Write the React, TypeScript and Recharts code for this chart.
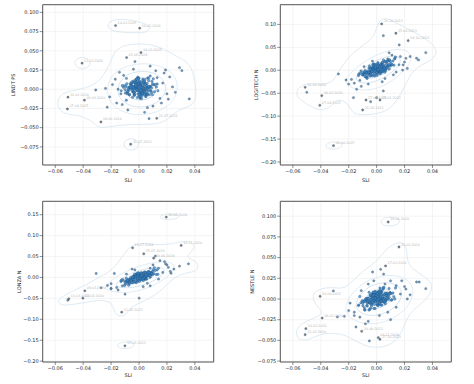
import React from 'react';
import { ScatterChart, Scatter, XAxis, YAxis, CartesianGrid, ReferenceArea } from 'recharts';

type Pt = [number, number];
type LPt = [number, number, string];

const FONT = '"DejaVu Sans", sans-serif';

const X_TICKS = [-0.06, -0.04, -0.02, 0, 0.02, 0.04];
const X_DOMAIN: [number, number] = [-0.069, 0.0535];

const LINDT_TICKS = [-0.075, -0.05, -0.025, 0, 0.025, 0.05, 0.075, 0.1];
const LOGITECH_TICKS = [-0.2, -0.15, -0.1, -0.05, 0, 0.05, 0.1];
const LONZA_TICKS = [-0.2, -0.15, -0.1, -0.05, 0, 0.05, 0.1, 0.15];
const NESTLE_TICKS = [-0.075, -0.05, -0.025, 0, 0.025, 0.05, 0.075, 0.1];

// SLI daily returns (core cloud, two batches)
const SLI_CORE = [
  0.0012, -0.0034, 0.0056, 0.0003, -0.0078, 0.0029, -0.0011, 0.0084, -0.0046, 0.0037,
  -0.0005, 0.0062, -0.0093, 0.0018, -0.0027, 0.0044, -0.0061, 0.0009, 0.0105, -0.003,
  0.0022, -0.0054, 0.0071, -0.0008, 0.0033, -0.0112, 0.005, -0.0019, 0, 0.009,
  -0.004, 0.0015, -0.007, 0.0048, -0.0023, 0.0069, -0.0086, 0.0026, -0.0002, 0.0124,
  -0.0058, 0.0039, -0.0014, 0.0006, -0.0038, 0.0077, -0.0066, 0.001, 0.0041, -0.01,
  0.002, -0.002, 0.0053, -0.0049, 0.0089, -0.0009, 0.003, -0.0074, 0.0065, -0.0016,
  0.0004, -0.0128, 0.0046, -0.0031, 0.0028, 0.011, -0.0051, 0.0013, -0.0081, 0.0059,
  -0.0025, 0.0036, -0.0001, 0.0073, -0.0043, 0.0008, -0.0068, 0.0097, -0.0012, 0.0024,
  -0.0036, 0.006, -0.0098, 0.0017, 0.0049, -0.0006, 0.0135, -0.005, 0.0021, -0.0029,
];
const SLI_CORE2 = [
  -0.0015, 0.004, -0.0063, 0.0024, 0.0007, -0.0022, 0.0079, -0.0041, 0.0016, -0.0004,
  0.0052, -0.0088, 0.0031, -0.0013, 0.0096, -0.0055, 0.0002, 0.0027, -0.0037, 0.0064,
  -0.0006, 0.0019, -0.0072, 0.0045, -0.0028, 0.0005, 0.0117, -0.0044, 0.0034, -0.0091,
  0.0011, -0.0017, 0.0058, -0.0033, 0.008, -0.0003, 0.0023, -0.006, 0.0042, -0.0024,
  0.0001, 0.013, -0.0052, 0.0014, -0.0007, 0.0067, -0.0039, 0.0029, -0.0104, 0.0038,
  -0.001, 0.0074, -0.0047, 0.0009, -0.0021, 0.0049, -0.0076, 0.0018, 0.0102, -0.0035,
  0.0025, -0.0008, 0.0055, -0.0059, 0.0003, -0.0019, 0.0086, -0.004, 0.0032, -0.012,
  0.0013, -0.0026, 0.0061, -0.0002, 0.0043, -0.0069, 0.002, -0.0011, 0.0093, -0.0032,
  0.0006, -0.0048, 0.0036, -0.0083, 0.001, 0.005, -0.0023, 0.007, -0.0009, 0.0026,
];

const LINDT_CORE = [
  0.0055, -0.0073, 0.0047, 0.0106, -0.0025, -0.0039, 0.0074, 0.0039, -0.0105, 0.0054,
  -0.0018, 0.0147, 0.0034, -0.0074, 0.0011, -0.0021, 0.0068, -0.0117, 0.0059, 0.0029,
  -0.0045, 0.0077, 0.0024, 0.0149, -0.0019, 0.0025, -0.0071, 0.0015, 0.007, 0.0016,
  0.0102, -0.0036, 0.0025, -0.0093, 0.0005, 0.011, -0.0049, -0.0052, 0.0135, 0.0029,
  0.0048, -0.0068, 0.0031, -0.0036, 0.0087, 0.003, 0.002, -0.0109, 0.0086, -0.0006,
  -0.0053, 0.0103, -0.0003, 0.0041, -0.0044, 0.0157, 0.0018, 0.001, -0.0026, 0.0077,
  -0.0097, -0.0021, 0.0063, -0.0035, 0.0129, -0.0034, 0.0014, 0.0072, -0.0029, -0.0066,
  0.0069, -0.002, 0.0143, 0.0037, -0.0027, 0.0093, -0.0074, 0.0066, -0.0108, 0.006,
  0.0091, 0.0019, -0.0049, 0.0083, -0.006, 0.0021, -0.002, 0.0095, 0.0006, 0.0035,
];
const LINDT_CORE2 = [
  -0.0018, 0.0083, -0.0001, -0.008, 0.0047, 0.0125, -0.0012, 0.0008, -0.0059, 0.0068,
  0.0021, 0.0071, -0.0012, 0.003, -0.0071, 0.0034, -0.0052, 0.0109, 0.0002, 0.001,
  0.0078, -0.0041, 0.0026, 0.0022, 0.0108, -0.0071, 0.006, -0.0037, 0.0085, -0.0142,
  0.0034, -0.0004, 0.0074, -0.0068, 0.0172, -0.0018, 0.0023, 0.0072, -0.0026, 0.0034,
  -0.0089, 0.0067, 0.0047, -0.0002, -0.0063, 0.0144, -0.004, 0.0019, 0.0048, -0.003,
  0.0036, -0.0071, 0.004, 0.0007, 0.0082, 0.0005, -0.0001, -0.0121, 0.0135, -0.0044,
  0.0025, 0.0064, -0.006, 0.0025, 0.0, 0.0133, -0.0024, 0.002, 0.0016, 0.0047,
  -0.0016, 0.005, -0.0064, 0.0025, 0.0124, -0.0065, 0.002, -0.0018, 0.0101, -0.0078,
  0.0049, -0.0018, 0.0105, -0.006, 0.0033, -0.0093, 0.0054, 0.003, 0.0105, -0.0048,
];

const LOGITECH_CORE = [
  0.007, -0.0034, 0.0193, -0.0028, -0.0068, -0.0027, 0.0074, 0.0099, -0.0049, 0.016,
  0.0057, -0.0013, -0.0074, -0.0021, 0.0066, 0.0053, -0.0054, 0.0165, 0.0116, 0.0047,
  -0.0045, -0.0065, 0.017, 0.0029, -0.0014, -0.0015, 0.0049, 0.0034, 0.0027, 0.0029,
  0.004, -0.0016, -0.0049, 0.0081, 0.014, 0.0029, -0.0046, 0.0025, 0.0116, 0.0112,
  -0.0041, 0.0135, -0.012, 0.0058, -0.0032, 0.0208, -0.0114, 0.0058, -0.0017, -0.0055,
  0.0028, 0.012, 0.0019, -0.0077, 0.0215, 0.001, -0.0058, -0.004, 0.0055, 0.0103,
  0.0004, -0.0086, 0.0091, -0.0116, 0.0105, 0.0124, 0.0095, 0.003, -0.0002, 0.0035,
  0.0016, 0.0084, -0.0111, 0.0191, -0.008, 0.0039, -0.0157, 0.0198, 0.0122, 0.0025,
  0.0006, -0.0003, -0.0103, 0.0109, 0.0026, 0, 0.0291, -0.0025, -0.0026, 0.0023,
];
const LOGITECH_CORE2 = [
  -0.0066, 0.017, -0.0063, 0.0102, -0.0089, 0.0011, 0.0078, 0.0051, 0.0027, 0.0052,
  0.001, -0.0031, 0.0035, 0.0007, 0.0091, 0.005, 0.0039, -0.0037, 0.002, 0.0073,
  0.0085, 0.0041, -0.0052, 0.0019, 0.0113, 0.0016, 0.0205, -0.0123, 0.012, -0.0091,
  -0.0009, 0.0092, -0.0041, -0.0011, 0.0104, 0.0094, 0.0044, -0.0014, -0.0028, 0.0018,
  -0.003, 0.0258, -0.0048, 0.0, 0.0125, 0.0036, -0.0047, 0.0111, -0.0097, -0.003,
  0.0038, 0.0067, 0.0039, 0.0038, -0.0034, 0.0222, -0.0147, 0.009, 0.0144, -0.0005,
  -0.0073, 0.0075, 0.0058, -0.0042, -0.0058, 0.0101, 0.013, 0.0006, 0.0005, -0.0066,
  0.0018, -0.0011, 0.019, -0.0046, 0.0116, -0.018, 0.007, -0.0025, 0.0228, -0.0027,
  0.0087, -0.0116, 0.0077, -0.0134, 0.0155, 0.012, -0.0107, 0.0119, 0.0069, 0.0031,
];

const LONZA_CORE = [
  0.0011, -0.0013, -0.0036, 0.0055, -0.0075, -0.0023, 0.0067, 0.0069, -0.0014, -0.0024,
  0.0115, 0.0067, -0.0085, -0.0024, 0.0028, -0.0038, -0.0062, 0.0041, 0.0087, 0.0056,
  -0.0037, -0.0044, 0.0125, -0.0021, -0.0039, -0.007, 0.0022, 0.0086, 0.0004, 0.008,
  0.0021, -0.0035, -0.0055, -0.0038, 0.0009, 0.015, -0.0102, 0.0005, 0.0052, 0.0068,
  -0.0053, 0.0001, 0.0065, -0.0001, -0.0015, 0.0118, -0.0131, 0.0027, 0.0121, -0.012,
  0.0001, 0.0044, 0.01, -0.0125, 0.0105, -0.0045, 0.0094, -0.0185, 0.0085, 0.0005,
  -0.0045, -0.0074, -0.0005, 0.0005, -0.0011, 0.0234, -0.0057, 0.0032, -0.0133, 0.0123,
  -0.0114, 0.0123, -0.0018, 0.0096, -0.0064, 0.0092, -0.0115, 0.0146, -0.009, 0.0027,
  0.0024, 0.004, -0.0164, 0.012, 0.004, 0.0037, 0.0076, -0.0035, -0.0015, 0.0039,
];
const LONZA_CORE2 = [
  0.0075, 0.0014, -0.0069, 0.0082, -0.0033, -0.0001, 0.0005, -0.001, 0.0013, 0.0058,
  0.0041, -0.0087, -0.0075, 0.0061, 0.0071, -0.0055, 0.0047, -0.0039, -0.0014, 0.0062,
  0.0097, -0.0027, -0.0062, 0.0046, 0.0028, -0.0019, 0.0167, -0.0122, 0.005, -0.0019,
  -0.0031, -0.0016, 0.0044, 0.0014, 0.0026, 0.0026, 0.0014, 0.0001, 0.001, -0.001,
  -0.0093, 0.0184, -0.0058, 0.0094, -0.0061, 0.0055, 0.0006, 0.0038, -0.0192, 0.007,
  0.0087, 0.0045, -0.0044, -0.0036, 0.0024, 0.0042, -0.0053, -0.0026, 0.0182, -0.0097,
  0.003, 0.0019, 0.0033, -0.006, 0.0023, -0.0121, 0.0111, -0.0051, 0.0087, -0.0047,
  0.0046, -0.0083, 0.0079, -0.0004, 0.0132, -0.0142, 0.0047, 0.0037, 0.0095, 0.0075,
  -0.0015, 0.0017, 0.0, -0.0067, -0.0068, 0.0069, -0.0011, 0.0119, -0.0023, -0.0028,
];

const NESTLE_CORE = [
  0.0078, -0.0059, 0.0054, -0.007, -0.0003, 0.0003, 0.0094, -0.0006, -0.0054, 0.0085,
  -0.0001, -0.0056, -0.0027, -0.0029, 0.0067, 0.001, 0.0011, 0.0014, -0.0014, 0.0021,
  -0.0018, 0.008, 0.0037, 0.0062, -0.003, -0.0045, 0.0044, -0.0115, 0.0061, 0.0019,
  -0.0017, -0.0062, 0, 0.0123, -0.0035, 0.0068, -0.0132, 0.0019, 0.0052, 0.0028,
  -0.0044, 0.0099, 0.0008, -0.0055, 0.001, 0.0073, -0.0048, 0.0086, -0.0017, -0.005,
  -0.0056, 0.0042, 0.0008, -0.0037, 0.0127, 0.0029, -0.0073, -0.0023, -0.0012, 0.0055,
  -0.0017, -0.0073, 0.0134, -0.0051, 0.007, -0.0009, -0.0043, 0.0054, -0.0033, -0.0026,
  0.0074, -0.0007, 0.0031, 0.0049, -0.0112, 0.0062, -0.0085, 0.0076, -0.0008, 0.0134,
  -0.0086, 0.0073, -0.0082, 0.0089, -0.0026, 0.0008, 0.0132, -0.0128, 0.0037, -0.002,
];
const NESTLE_CORE2 = [
  -0.0066, 0.0011, 0.0005, 0.0029, -0.0075, 0.0012, 0.0008, 0.0039, 0.0014, -0.0024,
  0.0142, -0.0107, 0.0056, -0.0015, 0.0074, -0.0133, 0.0053, -0.0011, -0.001, -0.0027,
  0.0081, 0.001, -0.0013, -0.0019, 0.0039, -0.0012, 0.0073, 0.0046, -0.003, -0.0023,
  -0.0081, 0.0009, 0.001, 0.005, 0.0044, 0.0045, -0.0045, -0.0028, -0.0012, 0.0083,
  0.0029, 0.0, -0.0025, 0.0057, -0.0023, -0.0013, 0.0055, 0.0017, -0.0022, -0.0072,
  0.001, 0.0008, 0.0039, -0.0006, 0.0017, -0.0033, 0.0005, -0.0009, 0.0064, -0.0064,
  0.0096, 0.0008, -0.0041, 0.0003, -0.0022, 0.0047, 0.0048, -0.0006, -0.0029, 0.0031,
  -0.0001, 0.0011, -0.0032, 0.0044, 0.0031, -0.0076, 0.0087, -0.0115, 0.0065, -0.0035,
  0.0066, -0.0034, 0.0057, -0.0132, 0.0029, -0.0011, 0.0041, 0.0042, -0.0036, 0.0107,
];

// sparse / outlying days (SLI, stock)
const LINDT_OTHER: Pt[] = [
  [-0.0029, 0.036], [0.029, 0.028], [0.0307, 0.0242], [0.036, -0.0126], [-0.031, -0.001],
  [-0.0228, -0.0234], [0.0072, -0.0383], [0.018, 0.021], [0.022, 0.016], [0.02, -0.006],
  [0.016, -0.018], [-0.016, -0.018], [-0.019, 0.006], [-0.014, 0.022], [0.008, 0.03],
  [-0.008, -0.027], [0.004, -0.03], [0.024, 0.003], [-0.021, -0.01],
  [0.012, 0.024], [-0.011, 0.018], [0.015, -0.012], [-0.013, -0.006], [0.017, 0.008],
  [-0.017, 0.013], [0.01, -0.022], [-0.004, 0.026], [0.021, -0.013], [-0.012, -0.02],
  [0.013, 0.015], [-0.015, 0.0], [0.006, -0.024], [-0.009, 0.014], [0.019, 0.025],
  [0.026, -0.004], [-0.024, 0.001],
];
const LOGITECH_OTHER: Pt[] = [
  [0.0048, 0.0755], [0.0162, 0.0552], [0.0352, 0.0384], [0.0286, 0.0262], [0.03, 0.0225],
  [-0.0274, -0.0081], [-0.05, -0.048], [-0.0166, -0.0597], [0.0, -0.0597], [-0.0043, -0.0685],
  [-0.0219, -0.0212], [-0.0143, -0.0414], [0.0048, -0.0451], [0.019, 0.0116], [0.0186, 0.0005],
  [0.017, 0.03], [0.02, 0.018], [-0.018, -0.02], [-0.011, -0.035], [0.009, 0.038],
  [0.012, -0.01], [-0.006, -0.03], [0.022, 0.004],
  [0.013, 0.025], [0.016, 0.012], [-0.013, -0.012], [-0.016, -0.028], [0.011, 0.033],
  [0.006, -0.018], [-0.009, 0.008], [0.021, 0.026], [-0.02, -0.03], [0.014, -0.004],
  [-0.003, 0.02], [0.024, 0.03], [-0.012, -0.022], [0.008, 0.025], [0.004, -0.025],
];
const LONZA_OTHER: Pt[] = [
  [-0.051, -0.0544], [0.0117, 0.051], [0.0183, 0.038], [0.019, 0.0326], [0.029, 0.027],
  [0.0354, 0.0326], [0.0224, 0.0143], [-0.0307, 0.0095], [-0.0177, 0.0095], [-0.0226, -0.0192],
  [-0.02, -0.027], [-0.0272, -0.0247], [0.0001, -0.0495], [0.02, 0.03], [0.015, 0.04],
  [-0.015, -0.03], [-0.02, -0.015], [0.008, -0.02], [-0.005, 0.02], [0.025, 0.02], [-0.01, -0.04],
  [0.014, 0.022], [0.017, 0.012], [-0.013, -0.01], [-0.016, -0.024], [0.01, 0.03],
  [0.006, -0.014], [-0.009, 0.008], [0.021, 0.024], [-0.02, -0.026], [0.014, -0.004],
  [-0.003, 0.018], [0.023, 0.01], [-0.012, -0.02], [0.008, 0.022], [0.003, -0.022],
];
const NESTLE_OTHER: Pt[] = [
  [-0.031, 0.0097], [0.0029, 0.0358], [-0.0029, 0.0326], [0.0286, 0.0205], [0.0305, 0.0205],
  [0.0352, 0.0125], [-0.0281, -0.0217], [-0.0231, -0.0209], [-0.0148, -0.0338], [-0.0052, -0.0507],
  [-0.006, -0.027], [0.018, 0.022], [0.02, 0.015], [-0.016, -0.02], [-0.019, -0.005],
  [0.01, -0.025], [-0.006, 0.018], [0.024, 0.005], [-0.008, -0.03], [0.005, 0.03],
  [0.014, 0.016], [0.017, 0.006], [-0.013, -0.008], [-0.016, -0.016], [0.01, 0.022],
  [0.008, -0.016], [-0.011, 0.01], [0.021, 0.012], [-0.02, -0.014], [0.014, -0.01],
  [-0.002, 0.022], [0.022, 0.0], [-0.012, -0.022], [0.006, 0.018], [0.002, -0.02],
];

// annotated days
const LINDT_LABELED: LPt[] = [
  [-0.0168, 0.0828, '10.03.2025'], [0.0005, 0.0794, '16.02.2024'], [-0.0408, 0.0339, '12.03.2020'],
  [0.0014, 0.0477, '14.03.2025'], [-0.0089, 0.0412, '05.08.2024'], [-0.0509, -0.0104, '16.03.2020'],
  [-0.0391, -0.0143, '09.03.2020'], [-0.0513, -0.0257, '07.04.2025'], [-0.0273, -0.0426, '24.06.2016'],
  [0.0127, -0.0378, '22.07.2022'], [-0.006, -0.0716, '31.07.2023'],
];
const LOGITECH_LABELED: LPt[] = [
  [0.0036, 0.101, '26.10.2023'], [0.0138, 0.0807, '25.04.2023'], [0.0226, 0.0646, '24.10.2023'],
  [-0.0512, -0.0371, '16.03.2020'], [-0.0393, -0.0554, '09.03.2020'], [-0.0407, -0.0763, '07.04.2025'],
  [-0.0076, -0.0648, '27.01.2021'], [0.0024, -0.0648, '25.01.2022'], [-0.01, -0.0866, '21.10.2021'],
  [-0.0309, -0.1644, '04.04.2025'],
];
const LONZA_LABELED: LPt[] = [
  [0.0195, 0.1443, '10.05.2024'], [0.0302, 0.0765, '10.11.2020'], [-0.0046, 0.0709, '19.07.2024'],
  [0.0034, 0.0565, '25.07.2023'], [0.0105, 0.0462, '24.04.2024'], [-0.0388, -0.032, '09.03.2020'],
  [-0.0503, -0.051, '16.03.2020'], [-0.0402, -0.0495, '12.03.2020'], [-0.0124, -0.083, '11.05.2022'],
  [-0.0101, -0.1634, '17.03.2023'],
];
const NESTLE_LABELED: LPt[] = [
  [0.0083, 0.093, '18.06.2020'], [0.016, 0.0628, '24.03.2020'], [0.0064, 0.0399, '17.03.2020'],
  [-0.0405, 0.0032, '26.04.2022'], [-0.039, -0.023, '09.03.2020'], [-0.0507, -0.0358, '16.03.2020'],
  [-0.0512, -0.0431, '12.03.2020'], [-0.0107, -0.039, '20.09.2022'], [0.0012, -0.0467, '01.11.2024'],
  [0.0024, -0.0487, '27.10.2023'],
];

// density contour outlines
const LINDT_CONTOURS: Pt[][] = [
  [[-0.0124, 0.0577], [0.0031, 0.0599], [0.0151, 0.0555], [0.0271, 0.0424], [0.0367, 0.0339], [0.0403, 0.0121], [0.0415, -0.0139], [0.0367, -0.0227], [0.0271, -0.027], [0.0199, -0.0422], [0.0079, -0.0465], [-0.0065, -0.0452], [-0.0209, -0.0487], [-0.0293, -0.0508], [-0.0329, -0.0422], [-0.0424, -0.0335], [-0.052, -0.0335], [-0.0588, -0.0247], [-0.0581, -0.0096], [-0.052, -0.0031], [-0.0376, 0.0013], [-0.0281, 0.0099], [-0.0209, 0.0316], [-0.0185, 0.0469]],
  [[-0.0221, 0.0881], [-0.0137, 0.0924], [0.0007, 0.0881], [0.0091, 0.0815], [0.0055, 0.0728], [-0.0041, 0.0737], [-0.0161, 0.0742], [-0.0228, 0.0794]],
  [[-0.047, 0.036], [-0.043, 0.042], [-0.037, 0.041], [-0.034, 0.034], [-0.037, 0.027], [-0.044, 0.026]],
  [[-0.012, -0.07], [-0.008, -0.064], [-0.002, -0.065], [0.0005, -0.071], [-0.002, -0.079], [-0.009, -0.08]],
];
const LINDT_INNER: Pt[][] = [
  [[-0.024, 0.0], [-0.019, 0.022], [-0.006, 0.033], [0.01, 0.034], [0.024, 0.024], [0.029, 0.003], [0.024, -0.02], [0.01, -0.033], [-0.007, -0.034], [-0.02, -0.022]],
  [[-0.016, 0.001], [-0.012, 0.016], [-0.002, 0.024], [0.01, 0.023], [0.018, 0.013], [0.02, -0.002], [0.015, -0.016], [0.005, -0.024], [-0.006, -0.023], [-0.014, -0.013]],
  [[-0.01, 0.001], [-0.007, 0.011], [0.001, 0.016], [0.008, 0.014], [0.012, 0.005], [0.012, -0.005], [0.008, -0.012], [0.001, -0.015], [-0.006, -0.012], [-0.009, -0.006]],
  [[-0.005, 0.002], [-0.002, 0.008], [0.003, 0.009], [0.007, 0.005], [0.007, -0.002], [0.004, -0.007], [-0.001, -0.007], [-0.004, -0.004]],
];

const LOGITECH_CONTOURS: Pt[][] = [
  [[-0.0571, -0.0393], [-0.05, -0.027], [-0.0381, -0.032], [-0.031, -0.0248], [-0.0274, -0.003], [-0.0202, 0.0297], [-0.0095, 0.0552], [-0.0012, 0.0733], [0.0012, 0.1097], [0.0071, 0.1155], [0.0143, 0.1024], [0.0286, 0.0806], [0.0405, 0.0588], [0.044, 0.037], [0.0381, 0.0188], [0.0286, 0.0079], [0.0226, -0.0175], [0.0167, -0.0575], [0.0083, -0.0902], [-0.0048, -0.0974], [-0.0167, -0.0974], [-0.019, -0.0792], [-0.0238, -0.0647], [-0.0298, -0.0647], [-0.0321, -0.0792], [-0.0381, -0.0865], [-0.044, -0.0851], [-0.0524, -0.0684], [-0.0576, -0.0575]],
  [[-0.037, -0.162], [-0.032, -0.155], [-0.025, -0.157], [-0.024, -0.166], [-0.029, -0.173], [-0.036, -0.171]],
];
const LOGITECH_INNER: Pt[][] = [
  [[-0.024, -0.03], [-0.02, -0.008], [-0.008, 0.022], [0.006, 0.042], [0.018, 0.048], [0.026, 0.036], [0.024, 0.012], [0.014, -0.018], [0.002, -0.04], [-0.012, -0.046]],
  [[-0.016, -0.02], [-0.012, -0.002], [-0.004, 0.016], [0.006, 0.03], [0.015, 0.032], [0.018, 0.022], [0.015, 0.006], [0.008, -0.012], [-0.002, -0.027], [-0.011, -0.029]],
  [[-0.01, -0.012], [-0.007, 0.001], [-0.001, 0.012], [0.006, 0.019], [0.011, 0.019], [0.012, 0.011], [0.009, 0.0], [0.004, -0.01], [-0.002, -0.017], [-0.008, -0.018]],
  [[-0.004, -0.005], [-0.002, 0.003], [0.002, 0.008], [0.006, 0.009], [0.007, 0.004], [0.005, -0.002], [0.001, -0.008], [-0.003, -0.009]],
];

const LONZA_CONTOURS: Pt[][] = [
  [[-0.0587, -0.055], [-0.0539, -0.0431], [-0.0444, -0.0272], [-0.0362, -0.0152], [-0.0302, -0.0017], [-0.0208, 0.0127], [-0.0136, 0.0406], [-0.0077, 0.0725], [0.0006, 0.0845], [0.0124, 0.0765], [0.0243, 0.0805], [0.0337, 0.0884], [0.0408, 0.0805], [0.0385, 0.0621], [0.0326, 0.0486], [0.0408, 0.0406], [0.0432, 0.0246], [0.0397, 0.0127], [0.0326, 0.0111], [0.0243, -0.0017], [0.0172, -0.0272], [0.0077, -0.0511], [-0.0042, -0.067], [-0.0077, -0.079], [-0.0101, -0.0925], [-0.016, -0.0925], [-0.0184, -0.075], [-0.0196, -0.059], [-0.0279, -0.0526], [-0.0373, -0.059], [-0.0492, -0.0654], [-0.0563, -0.067]],
  [[0.014, 0.146], [0.018, 0.152], [0.026, 0.152], [0.03, 0.146], [0.025, 0.138], [0.017, 0.138]],
  [[-0.016, -0.16], [-0.011, -0.153], [-0.004, -0.155], [-0.003, -0.164], [-0.008, -0.171], [-0.015, -0.169]],
];
const LONZA_INNER: Pt[][] = [
  [[-0.026, -0.03], [-0.022, -0.012], [-0.012, 0.012], [0.002, 0.03], [0.016, 0.04], [0.026, 0.034], [0.025, 0.014], [0.016, -0.01], [0.002, -0.032], [-0.012, -0.038]],
  [[-0.018, -0.02], [-0.014, -0.006], [-0.006, 0.01], [0.004, 0.021], [0.014, 0.026], [0.019, 0.02], [0.017, 0.006], [0.01, -0.01], [-0.001, -0.023], [-0.011, -0.026]],
  [[-0.011, -0.012], [-0.008, -0.002], [-0.002, 0.008], [0.005, 0.014], [0.011, 0.015], [0.012, 0.009], [0.009, 0.0], [0.004, -0.009], [-0.003, -0.015], [-0.009, -0.016]],
  [[-0.005, -0.005], [-0.002, 0.003], [0.002, 0.007], [0.006, 0.007], [0.007, 0.002], [0.004, -0.004], [0.0, -0.008], [-0.004, -0.008]],
];

const NESTLE_CONTOURS: Pt[][] = [
  [[-0.056, -0.0499], [-0.0583, -0.0399], [-0.0548, -0.0298], [-0.0452, -0.0238], [-0.0369, -0.0165], [-0.044, -0.0076], [-0.0464, 0.0044], [-0.0417, 0.0125], [-0.031, 0.0145], [-0.0238, 0.0117], [-0.0179, 0.0205], [-0.0095, 0.0346], [0.0, 0.0447], [0.0048, 0.0568], [0.0119, 0.0668], [0.019, 0.0696], [0.0219, 0.0608], [0.0214, 0.0467], [0.0262, 0.0346], [0.0357, 0.0266], [0.0405, 0.0165], [0.0381, 0.0044], [0.031, -0.0076], [0.0238, -0.0157], [0.019, -0.0358], [0.0143, -0.0519], [0.0024, -0.06], [-0.0095, -0.0568], [-0.019, -0.0459], [-0.0286, -0.0407], [-0.0405, -0.0419], [-0.0488, -0.0499]],
  [[0.002, 0.094], [0.006, 0.099], [0.013, 0.099], [0.018, 0.095], [0.014, 0.088], [0.005, 0.088]],
];
const NESTLE_INNER: Pt[][] = [
  [[-0.024, -0.012], [-0.018, 0.008], [-0.006, 0.024], [0.008, 0.03], [0.022, 0.026], [0.028, 0.01], [0.022, -0.012], [0.01, -0.026], [-0.004, -0.032], [-0.018, -0.026]],
  [[-0.016, -0.008], [-0.012, 0.006], [-0.004, 0.017], [0.007, 0.021], [0.016, 0.017], [0.019, 0.006], [0.015, -0.008], [0.006, -0.018], [-0.004, -0.021], [-0.012, -0.017]],
  [[-0.01, -0.004], [-0.007, 0.005], [-0.001, 0.011], [0.006, 0.013], [0.011, 0.009], [0.012, 0.002], [0.008, -0.006], [0.002, -0.011], [-0.004, -0.012], [-0.008, -0.009]],
  [[-0.004, -0.001], [-0.002, 0.004], [0.002, 0.006], [0.006, 0.005], [0.007, 0.001], [0.004, -0.004], [0.0, -0.005], [-0.003, -0.004]],
];

const INNER_COLORS = ['#d3e4f0', '#c3daec', '#aecde6', '#94bee0'];

const fmt = (d: number) => (v: number) => (v < 0 ? '\u2212' : '') + Math.abs(v).toFixed(d);

const coreDot = (p: any) => (
  <circle cx={p.cx} cy={p.cy} r={1.25} fill="#3b86c6" fillOpacity={0.75} stroke="#1d4b73" strokeWidth={0.3} />
);
const otherDot = (p: any) => (
  <circle cx={p.cx} cy={p.cy} r={1.15} fill="#4a82b3" fillOpacity={0.8} stroke="#2d4458" strokeWidth={0.3} />
);
const labelDot = (p: any) => (
  <g>
    <circle cx={p.cx} cy={p.cy} r={1.15} fill="#5a6f82" fillOpacity={0.85} stroke="#33414e" strokeWidth={0.3} />
    <text x={p.cx + 2} y={p.cy - 1.5} fontSize={3.3} fill="#b6b6b6" fontFamily={FONT}>
      {p.payload.label}
    </text>
  </g>
);
const noShape = () => <g />;

type PanelProps = {
  left: number;
  top: number;
  margin: { top: number; right: number; bottom: number; left: number };
  yLabel: string;
  yDomain: [number, number];
  yTicks: number[];
  yDec: number;
  yLabelOffset: number;
  xLabelOffset: number;
  coreY: number[];
  coreY2: number[];
  other: Pt[];
  labeled: LPt[];
  contours: Pt[][];
  inner: Pt[][];
};

function Panel(props: PanelProps) {
  const { left, top, margin, yLabel, yDomain, yTicks, yDec, yLabelOffset, xLabelOffset, coreY, coreY2, other, labeled, contours, inner } = props;
  const core = [
    ...SLI_CORE.map((x, i) => ({ x, y: coreY[i] })),
    ...SLI_CORE2.map((x, i) => ({ x, y: coreY2[i] })),
  ];
  const oth = other.map(([x, y]) => ({ x, y }));
  const lab = labeled.map(([x, y, label]) => ({ x, y, label }));
  return (
    <div style={{ position: 'absolute', left, top }}>
      <ScatterChart width={237} height={192} margin={margin}>
        <CartesianGrid stroke="#ececec" strokeWidth={0.6} />
        <XAxis
          type="number"
          dataKey="x"
          domain={X_DOMAIN}
          ticks={X_TICKS}
          allowDataOverflow
          interval={0}
          tickFormatter={fmt(2)}
          tick={{ fontSize: 5, fill: '#262626', fontFamily: FONT }}
          tickSize={3}
          tickMargin={1}
          axisLine={false}
          tickLine={{ stroke: '#444', strokeWidth: 0.6 }}
          height={22}
          label={{ value: 'SLI', position: 'insideBottom', offset: xLabelOffset, fontSize: 5, fill: '#262626', fontFamily: FONT }}
        />
        <YAxis
          type="number"
          dataKey="y"
          domain={yDomain}
          ticks={yTicks}
          allowDataOverflow
          interval={0}
          tickFormatter={fmt(yDec)}
          tick={{ fontSize: 5, fill: '#262626', fontFamily: FONT }}
          tickSize={3}
          tickMargin={1}
          axisLine={false}
          tickLine={{ stroke: '#444', strokeWidth: 0.6 }}
          width={40}
          label={{ value: yLabel, angle: -90, position: 'insideLeft', offset: yLabelOffset, fontSize: 5, fill: '#262626', fontFamily: FONT, style: { textAnchor: 'middle' } }}
        />
        {contours.map((c, i) => (
          <Scatter
            key={'c' + i}
            data={c.map(([x, y]) => ({ x, y }))}
            line={{ stroke: '#d6e5ef', strokeWidth: 0.8 }}
            lineJointType="basisClosed"
            shape={noShape}
            isAnimationActive={false}
          />
        ))}
        {inner.map((c, i) => (
          <Scatter
            key={'i' + i}
            data={c.map(([x, y]) => ({ x, y }))}
            line={{ stroke: INNER_COLORS[i], strokeWidth: 0.7 }}
            lineJointType="basisClosed"
            shape={noShape}
            isAnimationActive={false}
          />
        ))}
        <Scatter data={oth} shape={otherDot} isAnimationActive={false} />
        <Scatter data={core} shape={coreDot} isAnimationActive={false} />
        <Scatter data={lab} shape={labelDot} isAnimationActive={false} />
        <ReferenceArea x1={X_DOMAIN[0]} x2={X_DOMAIN[1]} y1={yDomain[0]} y2={yDomain[1]} fill="none" stroke="#555" strokeWidth={1} ifOverflow="visible" />
      </ScatterChart>
    </div>
  );
}

export default function App() {
  return (
    <div style={{ position: 'absolute', left: 0, top: 0, width: 474, height: 384, background: '#fff', overflow: 'hidden' }}>
      <Panel
        left={0}
        top={0}
        margin={{ top: 4.7, right: 23.3, bottom: 5, left: 2.7 }}
        yLabel="LINDT PS"
        yDomain={[-0.0986, 0.11]}
        yTicks={LINDT_TICKS}
        yDec={3}
        yLabelOffset={10.6}
        xLabelOffset={5.2}
        coreY={LINDT_CORE}
        coreY2={LINDT_CORE2}
        other={LINDT_OTHER}
        labeled={LINDT_LABELED}
        contours={LINDT_CONTOURS}
        inner={LINDT_INNER}
      />
      <Panel
        left={237}
        top={0}
        margin={{ top: 4.7, right: 22.7, bottom: 5, left: 3.3 }}
        yLabel="LOGITECH N"
        yDomain={[-0.2065, 0.143]}
        yTicks={LOGITECH_TICKS}
        yDec={2}
        yLabelOffset={15.7}
        xLabelOffset={5.2}
        coreY={LOGITECH_CORE}
        coreY2={LOGITECH_CORE2}
        other={LOGITECH_OTHER}
        labeled={LOGITECH_LABELED}
        contours={LOGITECH_CONTOURS}
        inner={LOGITECH_INNER}
      />
      <Panel
        left={0}
        top={192}
        margin={{ top: 9.3, right: 23.3, bottom: 0, left: 2.7 }}
        yLabel="LONZA N"
        yDomain={[-0.202, 0.182]}
        yTicks={LONZA_TICKS}
        yDec={2}
        yLabelOffset={16.3}
        xLabelOffset={7.5}
        coreY={LONZA_CORE}
        coreY2={LONZA_CORE2}
        other={LONZA_OTHER}
        labeled={LONZA_LABELED}
        contours={LONZA_CONTOURS}
        inner={LONZA_INNER}
      />
      <Panel
        left={237}
        top={192}
        margin={{ top: 9.3, right: 22.7, bottom: 0, left: 3.3 }}
        yLabel="NESTLE N"
        yDomain={[-0.0761, 0.118]}
        yTicks={NESTLE_TICKS}
        yDec={3}
        yLabelOffset={11.7}
        xLabelOffset={7.5}
        coreY={NESTLE_CORE}
        coreY2={NESTLE_CORE2}
        other={NESTLE_OTHER}
        labeled={NESTLE_LABELED}
        contours={NESTLE_CONTOURS}
        inner={NESTLE_INNER}
      />
    </div>
  );
}
